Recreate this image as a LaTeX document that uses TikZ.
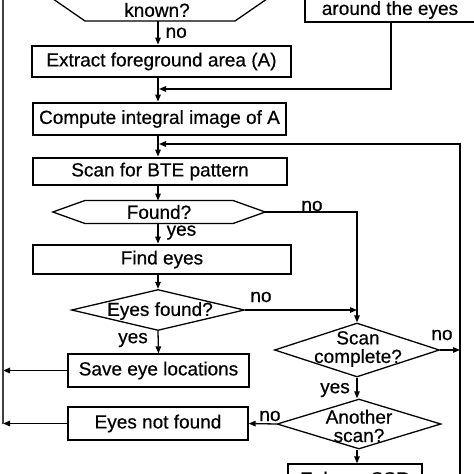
\documentclass[tikz,border=0pt]{standalone}
\usepackage{fontspec}
\setmainfont{Liberation Sans}[FakeBold=0.5]
\usetikzlibrary{arrows.meta,shapes.geometric}

\tikzset{
  every node/.style={font=\fontsize{19}{18.5}\selectfont, inner sep=0pt},
  thickbox/.style={draw, rectangle, line width=2.8pt},
  thinbox/.style={draw, rectangle, line width=1.3pt},
  decision/.style={draw, diamond, line width=1.3pt},
  line/.style={line width=1.3pt},
  flow/.style={line width=1.3pt, -{Triangle[length=7pt,width=5.5pt]}},
}

\begin{document}
\begin{tikzpicture}[x=1pt,y=-1pt]
\useasboundingbox (0,0) rectangle (474,474);
\clip (0,0) rectangle (474,474);
% top decision, cut off by the frame
\draw[line] (43,-8) -- (85,21) -- (235,21) -- (277,-8);
\node (known) at (157,10) {known?};
\coordinate (kb) at (158,21);
\node[thinbox, minimum width=172pt, minimum height=60pt] (eyes) at (391,-8) {};
\node (eyestxt) at (390,10) {around the eyes};
% main column
\node[thickbox, minimum width=259pt, minimum height=31pt] (extract) at (161.5,61.5) {Extract foreground area (A)};
\node[thickbox, minimum width=253pt, minimum height=32pt] (compute) at (159.5,119) {Compute integral image of A};
\node[thickbox, minimum width=254pt, minimum height=27pt] (scan) at (160,171.5) {Scan for BTE pattern};
\node[minimum width=212pt, minimum height=22.5pt] (found) at (159,212) {Found?};
\draw[line] (found.west) -- ([xshift=32pt]found.north west) -- ([xshift=-32pt]found.north east)
  -- (found.east) -- ([xshift=-32pt]found.south east) -- ([xshift=32pt]found.south west) -- cycle;
\node[thickbox, minimum width=258pt, minimum height=29pt] (find) at (162,259.5) {Find eyes};
\node[decision, minimum width=173pt, minimum height=41pt] (eyesq) at (158,310) {};
\node (eyesqtxt) at (160,311) {Eyes found?};
\node[thinbox, minimum width=181pt, minimum height=33pt] (save) at (158.5,370.5) {Save eye locations};
\node[thinbox, minimum width=180pt, minimum height=33pt] (notfound) at (158,423.5) {Eyes not found};
% right column
\node[decision, minimum width=165pt, minimum height=54pt] (scanq) at (357,350) {};
\node[align=center] (scanqtxt) at (358,349) {Scan\\complete?};
\node[decision, minimum width=164pt, minimum height=50pt] (another) at (359,424) {};
\node[align=center] (anothertxt) at (359,426) {Another\\scan?};
\node[thinbox, minimum width=134pt, minimum height=33pt] (enlarge) at (355,480.5) {Enlarge SSR};
% return lines
\coordinate (m1) at (159,89);
\coordinate (m2) at (159,144);
\coordinate (rb) at (460,480);
\coordinate (lt) at (3,-2);
% connectors
\draw[flow] (kb) -- (kb |- extract.north) node[pos=0.5, right=7pt] (no1) {no};
\draw[flow] (kb |- extract.south) -- (kb |- compute.north);
\draw[flow] (eyes.south) |- (m1);
\draw[flow] (kb |- compute.south) -- (kb |- scan.north);
\draw[flow] (rb) |- (m2);
\draw[flow] (kb |- scan.south) -- (kb |- found.north);
\draw[flow] (kb |- found.south) -- (kb |- find.north) node[pos=0.45, right=8pt] (yes1) {yes};
\draw[flow] (kb |- find.south) -- (eyesq.north);
\draw[flow] (found.east) -| (scanq.north);
\node (no2) at (312,206) {no};
\draw[flow] (eyesq.east) -- (eyesq.east -| scanq.north);
\node (no3) at (261,297) {no};
\draw[flow] (eyesq.south) -- (save.north);
\node (yes2) at (133,340) {yes};
\draw[flow] (scanq.east) -- (scanq.east -| rb);
\node (no4) at (442,335) {no};
\draw[flow] (scanq.south) -- (another.north -| scanq.south);
\node (yes3) at (335,390) {yes};
\draw[flow] (another.west) -- (notfound.east);
\node (no5) at (270,416) {no};
\draw[flow] (another.south -| scanq.south) -- (enlarge.north -| scanq.south);
\draw[flow] (save.west) -- (save.west -| lt);
\draw[flow] (notfound.west) -- (notfound.west -| lt);
\draw[line width=2.8pt, black!75] (notfound.west -| lt) -- (lt);
\end{tikzpicture}
\end{document}
